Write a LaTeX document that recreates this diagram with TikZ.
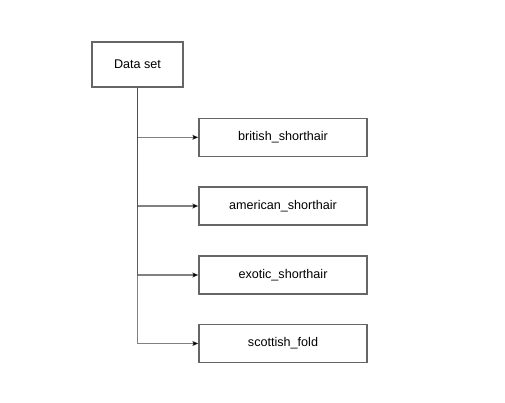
\documentclass[tikz,border=0pt]{standalone}
\usepackage{fontspec}
\setmainfont{Liberation Sans}
\usetikzlibrary{arrows.meta}
\begin{document}
\begin{tikzpicture}[x=1bp,y=-1bp,
  box/.style={draw=black!60,line width=1.2bp,minimum height=38bp,inner sep=0pt,font=\fontsize{12.6bp}{15bp}\selectfont},
  edge/.style={draw=black!70,line width=1.1bp,draw opacity=0.7,-{Stealth[length=6bp,width=5bp,inset=1bp,fill=black,color=black]}}]
\useasboundingbox[fill=white] (0,0) rectangle (505,402);
\node[box,minimum width=91bp,minimum height=45bp] (root) at (137.5,64.5) {Data set};
\node[box,minimum width=168bp] (c1) at (283,137.3) {british\_shorthair};
\node[box,minimum width=168bp] (c2) at (283,206) {american\_shorthair};
\node[box,minimum width=168bp] (c3) at (283,275) {exotic\_shorthair};
\node[box,minimum width=168bp] (c4) at (283,343.5) {scottish\_fold};
\foreach \c in {c1,c2,c3,c4}
  \draw[edge] (root.south) |- (\c.west);
\end{tikzpicture}
\end{document}
